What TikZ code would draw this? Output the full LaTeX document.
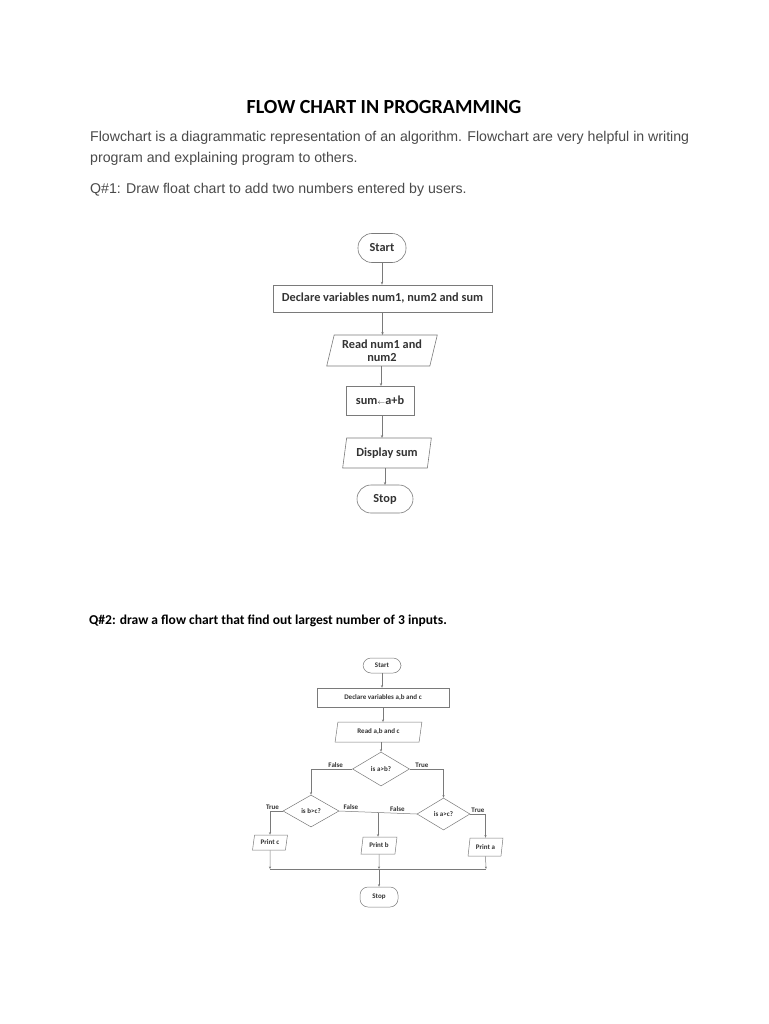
\documentclass[tikz,border=0pt]{standalone}
\usepackage{fontspec}
\setmainfont{Liberation Sans}
\newfontfamily\calfont{Carlito}
\usetikzlibrary{shapes.geometric,arrows.meta,calc}
\definecolor{txtgray}{HTML}{4A4A4A}
\definecolor{linegray}{HTML}{7A7A7A}
\definecolor{fctext}{HTML}{333333}
\begin{document}
\begin{tikzpicture}[x=1pt,y=-1pt,
  every node/.style={inner sep=0pt},
  para/.style={anchor=base west,text=txtgray,font=\fontsize{14.15}{16}\selectfont},
  fcA/.style={draw=linegray,line width=0.6pt,text=fctext,font=\calfont\bfseries\fontsize{12.3}{13}\selectfont,align=center},
  fcB/.style={draw=linegray,line width=0.5pt,text=fctext,font=\calfont\bfseries\fontsize{7}{8}\selectfont,align=center},
  termA/.style={fcA,rectangle,rounded corners=14pt},
  termB/.style={fcB,rectangle,rounded corners=8pt},
  boxA/.style={fcA,rectangle},
  boxB/.style={fcB,rectangle},
  ioA/.style={fcA,trapezium,trapezium left angle=74,trapezium right angle=106,trapezium stretches=true},
  ioB/.style={fcB,trapezium,trapezium left angle=76,trapezium right angle=104,trapezium stretches=true},
  decB/.style={fcB,diamond},
  conn/.style={draw=linegray,line width=0.6pt,-{Stealth[length=3pt,width=2.4pt]}},
  connB/.style={draw=linegray,line width=0.5pt,-{Stealth[length=2.5pt,width=2pt]}},
  plainB/.style={draw=linegray,line width=0.5pt},
  lab/.style={text=fctext,font=\calfont\bfseries\fontsize{7}{8}\selectfont}
]
\useasboundingbox[fill=white] (0,0) rectangle (768,1024);

% texts
\node[anchor=base,text=black] (title) at (384,114) {\calfont\bfseries\fontsize{20}{24}\selectfont FLOW CHART IN PROGRAMMING};
\node[para] (p1) at (90,141.5) {Flowchart is a diagrammatic representation of an algorithm. Flowchart are very helpful in writing};
\node[para] (p2) at (90,163) {program and explaining program to others.};
\node[para] (q1) at (90,194) {Q\#1: Draw float chart to add two numbers entered by users.};
\node[anchor=base west,text=black] (q2) at (89,624.5) {\calfont\bfseries\fontsize{13.55}{15}\selectfont Q\#2: draw a flow chart that find out largest number of 3 inputs.};

% flowchart 1
\node[termA,minimum width=48pt,minimum height=29pt] (s1) at (382,248) {Start};
\node[boxA,minimum width=219pt,minimum height=27pt] (d1) at (382.5,298.5) {Declare variables num1, num2 and sum};
\node[ioA,minimum width=111pt,minimum height=31pt] (r1) at (382,350.5) {Read num1 and\\num2};
\node[boxA,minimum width=68pt,minimum height=29pt] (c1) at (380,400.5) {sum{\scriptsize$\leftarrow$}a+b};
\node[ioA,minimum width=89pt,minimum height=30pt] (o1) at (387,453) {Display sum};
\node[termA,minimum width=56pt,minimum height=28pt] (e1) at (385,499) {Stop};

\draw[conn] (s1.south) -- (s1.south |- d1.north);
\draw[conn] (382.5,312) -- (382.5,335);
\draw[conn] (381,366) -- (381,386);
\draw[conn] (382,415) -- (382,438);
\draw[conn] (385,468) -- (385,485);

% flowchart 2
\node[termB,minimum width=38pt,minimum height=15pt] (s2) at (382,665.5) {Start};
\node[boxB,minimum width=132pt,minimum height=19pt] (d2) at (383,697.5) {Declare variables a,b and c};
\node[ioB,minimum width=87pt,minimum height=20pt] (r2) at (378.5,732) {Read a,b and c};
\node[decB,minimum width=57pt,minimum height=34pt] (q1d) at (381,769) {is a>b?};
\node[decB,minimum width=56pt,minimum height=32pt] (q2d) at (311,811) {is b>c?};
\node[decB,minimum width=53pt,minimum height=32pt] (q3d) at (443.5,814) {is a>c?};
\node[ioB,minimum width=35pt,minimum height=15pt] (pc) at (270,842.5) {Print c};
\node[ioB,minimum width=36pt,minimum height=17pt] (pb) at (379,845.5) {Print b};
\node[ioB,minimum width=35pt,minimum height=18pt] (pa) at (485.5,847) {Print a};
\node[termB,minimum width=38pt,minimum height=20pt] (e2) at (379,897) {Stop};

\coordinate (j) at ($(q2d.east)!0.5!(q3d.west)$);
\coordinate (bl) at (270,869);
\coordinate (bm) at (379,869);
\coordinate (br) at (486,869);

\draw[connB] (s2.south) -- (s2.south |- d2.north);
\draw[connB] (383,707) -- (383,722);
\draw[connB] (381,742) -- (q1d.north);
\draw[connB] (q1d.west) -| (q2d.north) node[lab,pos=0.2,above=1.5pt]{False};
\draw[connB] (q1d.east) -| (q3d.north) node[lab,pos=0.18,above=1.5pt]{True};
\draw[connB] (q2d.west) -| (pc.north) node[lab,pos=0.4,above=1.5pt]{True};
\draw[connB] (q3d.east) -| (pa.north) node[lab,pos=0.25,above=1.5pt]{True};
\draw[plainB] (q2d.east) -- (j) node[lab,pos=0.3,above=1.5pt]{False};
\draw[plainB] (q3d.west) -- (j) node[lab,pos=0.5,above=1.5pt]{False};
\draw[connB] (j) -- (j |- pb.north);
\draw[connB] (pc.south) -- (bl);
\draw[connB] (pb.south) -- (bm);
\draw[connB] (pa.south) -- (br);
\draw[plainB] (bl) -- (br);
\draw[connB] (bm) -- (e2.north);
\end{tikzpicture}
\end{document}
